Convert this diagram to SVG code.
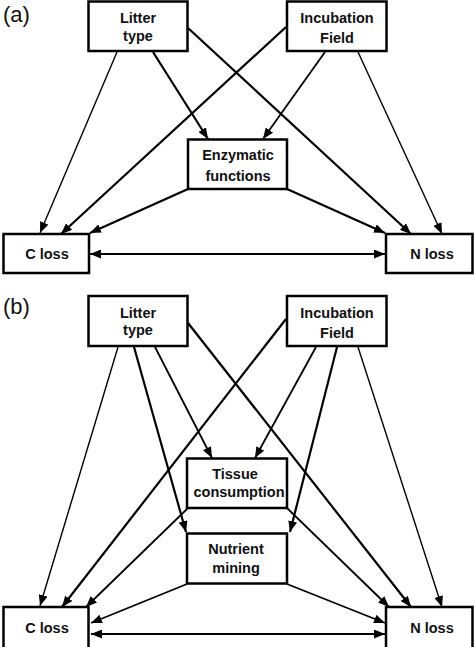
<svg xmlns="http://www.w3.org/2000/svg" width="474" height="647" viewBox="0 0 474 647">
<style>
.box{fill:#fff;stroke:#000;stroke-width:2.5}
.t{font-family:"Liberation Sans",Arial,sans-serif;font-weight:bold;font-size:14.5px;text-anchor:middle;fill:#111}
.lab{font-family:"Liberation Sans",Arial,sans-serif;font-size:22px;fill:#111}
.c{fill:none;stroke:#000;marker-end:url(#ah)}
.thin{stroke-width:1.4}
.med{stroke-width:1.8}
.thk{stroke-width:2.2}
</style>
<defs>
<marker id="ah" markerUnits="userSpaceOnUse" markerWidth="11" markerHeight="9" refX="11" refY="4.5" orient="auto">
<path d="M0,0 L11,4.5 L0,9 z" fill="#000"/>
</marker>
<marker id="ahs" markerUnits="userSpaceOnUse" markerWidth="11" markerHeight="9" refX="0" refY="4.5" orient="auto">
<path d="M11,0 L0,4.5 L11,9 z" fill="#000"/>
</marker>
</defs>
<rect width="474" height="647" fill="#fff"/>
<text class="lab" x="3" y="22">(a)</text>
<text class="lab" x="3" y="314">(b)</text>
<g id="connectors">
<!-- panel a -->
<line class="c thin" x1="117" y1="52" x2="40" y2="233"/>
<line class="c thk" x1="153" y1="52" x2="208" y2="139"/>
<line class="c thk" x1="188" y1="28" x2="411" y2="234"/>
<line class="c thk" x1="286" y1="27" x2="61" y2="234"/>
<line class="c med" x1="325" y1="52" x2="263" y2="139"/>
<line class="c thin" x1="358" y1="52" x2="442" y2="234"/>
<line class="c thk" x1="188" y1="189" x2="90" y2="233"/>
<line class="c thk" x1="287" y1="189" x2="385" y2="233"/>
<line class="c thk" x1="90" y1="254" x2="385" y2="254" marker-start="url(#ahs)"/>
<!-- panel b -->
<line class="c thin" x1="118" y1="347" x2="40" y2="606"/>
<line class="c thk" x1="134" y1="347" x2="186" y2="532"/>
<line class="c med" x1="155" y1="347" x2="212" y2="458"/>
<line class="c thk" x1="188" y1="323" x2="411" y2="607"/>
<line class="c thk" x1="286" y1="319" x2="62" y2="607"/>
<line class="c med" x1="316" y1="347" x2="255" y2="458"/>
<line class="c thk" x1="337" y1="347" x2="290" y2="532"/>
<line class="c thin" x1="358" y1="347" x2="442" y2="607"/>
<line class="c med" x1="188" y1="508" x2="86" y2="607"/>
<line class="c med" x1="287" y1="508" x2="389" y2="607"/>
<line class="c med" x1="187" y1="584" x2="91" y2="623"/>
<line class="c med" x1="287" y1="584" x2="385" y2="623"/>
<line class="c thk" x1="91" y1="634" x2="385" y2="634" marker-start="url(#ahs)"/>
</g>
<!-- panel a nodes -->
<g id="a-litter"><rect class="box" x="88.5" y="1.5" width="99" height="49.5"/><text class="t" x="138" y="23">Litter</text><text class="t" x="138" y="41">type</text></g>
<g id="a-incubation"><rect class="box" x="287" y="1.5" width="99.5" height="49.5"/><text class="t" x="337" y="23">Incubation</text><text class="t" x="337" y="43">Field</text></g>
<g id="a-enzymatic"><rect class="box" x="188" y="139.5" width="99" height="49.5"/><text class="t" x="238" y="160">Enzymatic</text><text class="t" x="238" y="181">functions</text></g>
<g id="a-closs"><rect class="box" x="3.5" y="234" width="85.5" height="39"/><text class="t" x="47" y="259">C loss</text></g>
<g id="a-nloss"><rect class="box" x="386" y="234" width="86.5" height="39"/><text class="t" x="432" y="259">N loss</text></g>
<!-- panel b nodes -->
<g id="b-litter"><rect class="box" x="88.5" y="296" width="99" height="50"/><text class="t" x="138" y="318">Litter</text><text class="t" x="138" y="335">type</text></g>
<g id="b-incubation"><rect class="box" x="287" y="296" width="99.5" height="50"/><text class="t" x="337" y="318">Incubation</text><text class="t" x="337" y="338">Field</text></g>
<g id="b-tissue"><rect class="box" x="187" y="458.5" width="100" height="49.5"/><text class="t" x="235" y="479">Tissue</text><text class="t" x="239" y="497">consumption</text></g>
<g id="b-nutrient"><rect class="box" x="187" y="533.5" width="100" height="50"/><text class="t" x="236" y="554">Nutrient</text><text class="t" x="236" y="573">mining</text></g>
<g id="b-closs"><rect class="box" x="3.5" y="607" width="85" height="42"/><text class="t" x="47" y="633">C loss</text></g>
<g id="b-nloss"><rect class="box" x="386" y="607" width="86.5" height="42"/><text class="t" x="432" y="633">N loss</text></g>
</svg>
